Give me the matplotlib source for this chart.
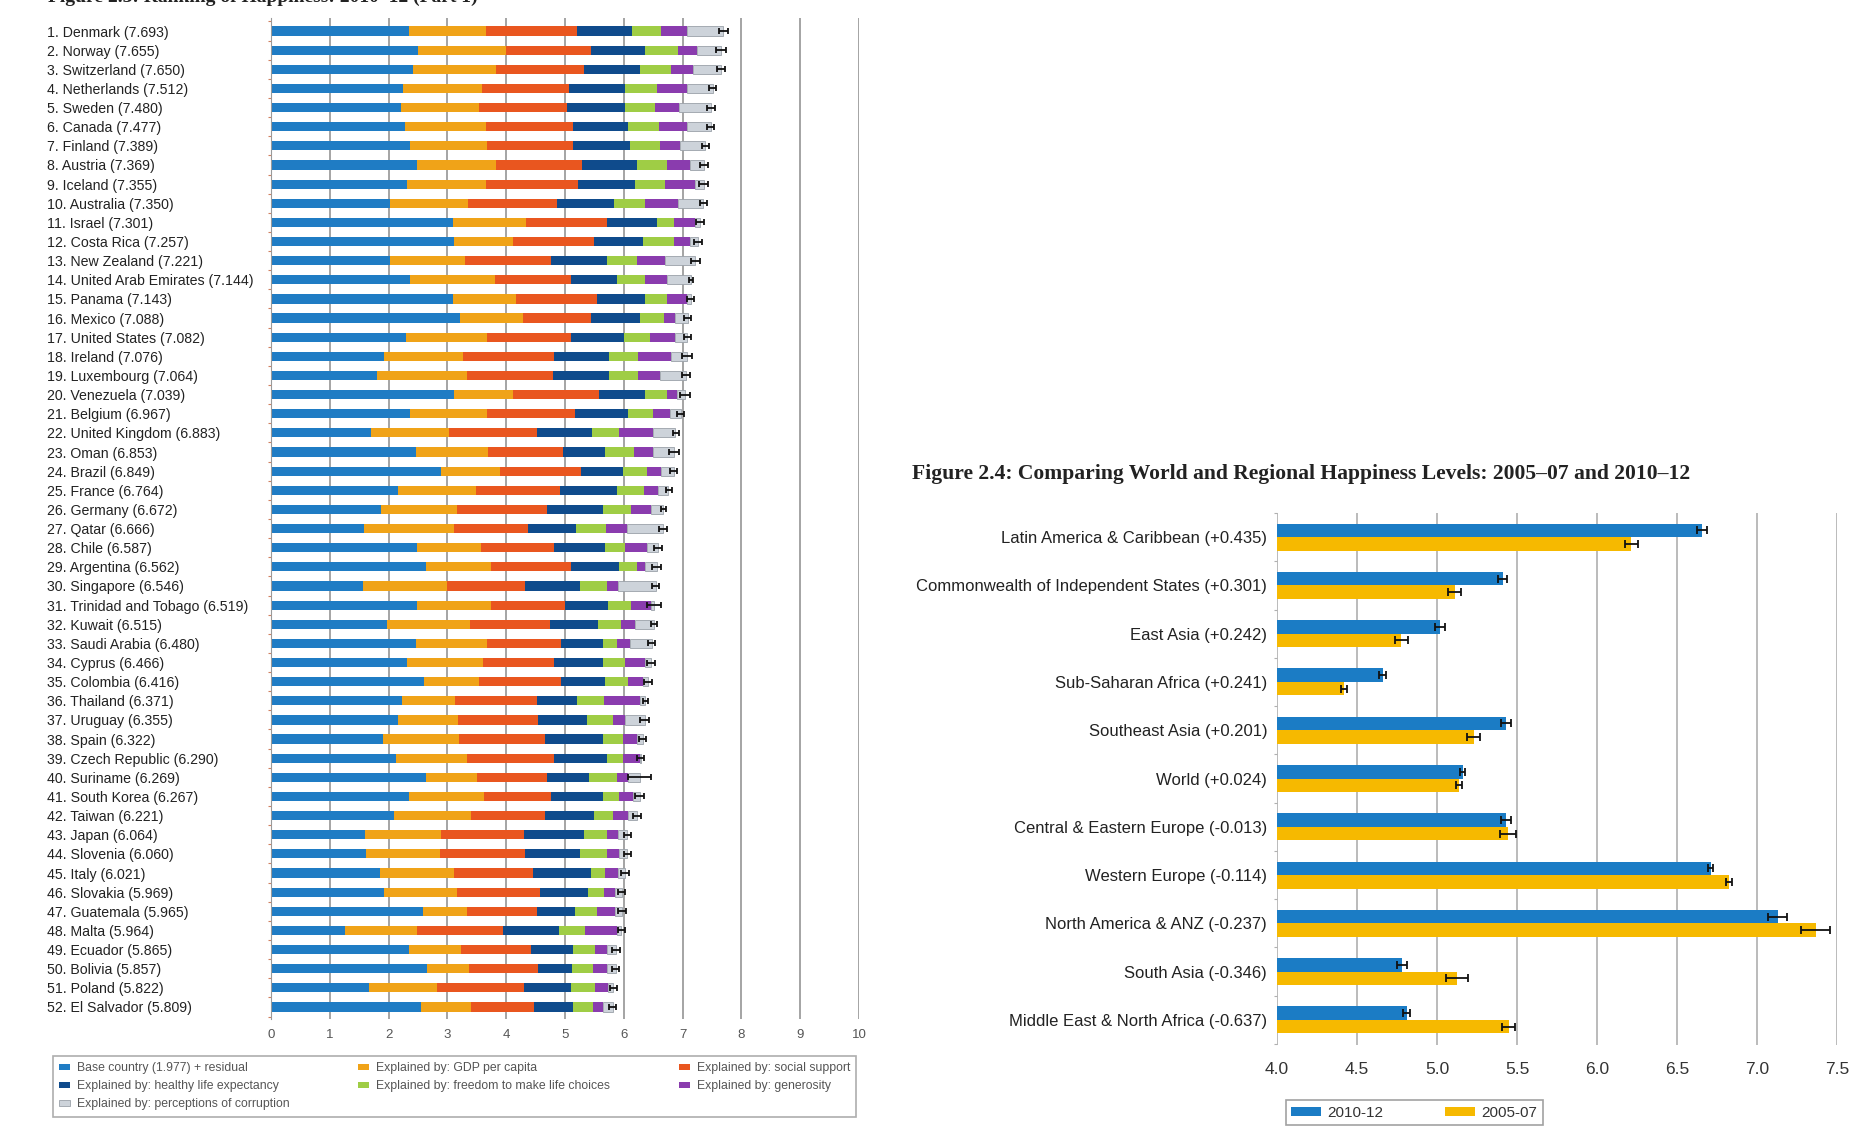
import numpy as np
import matplotlib
matplotlib.use('Agg')
import matplotlib.pyplot as plt

plt.rcParams['font.family'] = ['Liberation Sans', 'DejaVu Sans']

# ---- left chart: ranking of happiness 2010-12 (part 1) ----
countries = ['Denmark', 'Norway', 'Switzerland', 'Netherlands', 'Sweden', 'Canada', 'Finland',
             'Austria', 'Iceland', 'Australia', 'Israel', 'Costa Rica', 'New Zealand',
             'United Arab Emirates', 'Panama', 'Mexico', 'United States', 'Ireland', 'Luxembourg',
             'Venezuela', 'Belgium', 'United Kingdom', 'Oman', 'Brazil', 'France', 'Germany',
             'Qatar', 'Chile', 'Argentina', 'Singapore', 'Trinidad and Tobago', 'Kuwait',
             'Saudi Arabia', 'Cyprus', 'Colombia', 'Thailand', 'Uruguay', 'Spain', 'Czech Republic',
             'Suriname', 'South Korea', 'Taiwan', 'Japan', 'Slovenia', 'Italy', 'Slovakia',
             'Guatemala', 'Malta', 'Ecuador', 'Bolivia', 'Poland', 'El Salvador']
scores = [7.693, 7.655, 7.650, 7.512, 7.480, 7.477, 7.389, 7.369, 7.355, 7.350, 7.301, 7.257,
          7.221, 7.144, 7.143, 7.088, 7.082, 7.076, 7.064, 7.039, 6.967, 6.883, 6.853, 6.849,
          6.764, 6.672, 6.666, 6.587, 6.562, 6.546, 6.519, 6.515, 6.480, 6.466, 6.416, 6.371,
          6.355, 6.322, 6.290, 6.269, 6.267, 6.221, 6.064, 6.060, 6.021, 5.969, 5.965, 5.964,
          5.865, 5.857, 5.822, 5.809]
base = [2.35, 2.50, 2.42, 2.24, 2.21, 2.28, 2.37, 2.48, 2.32, 2.02, 3.09, 3.12, 2.02, 2.37, 3.10,
        3.21, 2.29, 1.92, 1.80, 3.12, 2.37, 1.71, 2.46, 2.90, 2.16, 1.87, 1.59, 2.48, 2.63, 1.57,
        2.49, 1.97, 2.46, 2.32, 2.60, 2.23, 2.16, 1.91, 2.12, 2.63, 2.35, 2.10, 1.60, 1.61, 1.85,
        1.93, 2.59, 1.26, 2.35, 2.65, 1.67, 2.56]
gdp = [1.30, 1.49, 1.40, 1.35, 1.33, 1.37, 1.30, 1.34, 1.33, 1.33, 1.24, 1.00, 1.28, 1.44, 1.06,
       1.07, 1.38, 1.35, 1.54, 1.00, 1.30, 1.32, 1.23, 1.00, 1.32, 1.30, 1.53, 1.10, 1.11, 1.42,
       1.25, 1.41, 1.21, 1.29, 0.94, 0.90, 1.02, 1.29, 1.22, 0.88, 1.28, 1.31, 1.29, 1.26, 1.27,
       1.24, 0.74, 1.23, 0.89, 0.72, 1.15, 0.84]
social = [1.55, 1.45, 1.51, 1.48, 1.49, 1.49, 1.47, 1.47, 1.57, 1.51, 1.38, 1.38, 1.46, 1.29, 1.38,
          1.16, 1.43, 1.55, 1.46, 1.46, 1.50, 1.49, 1.28, 1.37, 1.43, 1.52, 1.25, 1.24, 1.36, 1.33,
          1.26, 1.36, 1.26, 1.21, 1.39, 1.39, 1.36, 1.46, 1.48, 1.19, 1.13, 1.25, 1.42, 1.45, 1.34,
          1.40, 1.19, 1.45, 1.19, 1.17, 1.49, 1.08]
health = [0.94, 0.93, 0.94, 0.96, 1.00, 0.93, 0.96, 0.94, 0.98, 0.98, 0.85, 0.82, 0.95, 0.79, 0.83,
          0.83, 0.91, 0.93, 0.95, 0.78, 0.90, 0.94, 0.71, 0.72, 0.98, 0.96, 0.81, 0.86, 0.82, 0.93,
          0.73, 0.82, 0.72, 0.83, 0.75, 0.69, 0.84, 0.99, 0.89, 0.71, 0.88, 0.84, 1.01, 0.93, 0.98,
          0.82, 0.65, 0.96, 0.71, 0.58, 0.79, 0.66]
freedom = [0.50, 0.55, 0.53, 0.53, 0.51, 0.53, 0.52, 0.50, 0.50, 0.53, 0.30, 0.54, 0.51, 0.48, 0.37,
           0.41, 0.43, 0.49, 0.50, 0.37, 0.43, 0.46, 0.50, 0.40, 0.46, 0.47, 0.51, 0.34, 0.31, 0.46,
           0.40, 0.40, 0.24, 0.37, 0.39, 0.46, 0.44, 0.34, 0.28, 0.47, 0.28, 0.32, 0.39, 0.47, 0.24,
           0.28, 0.37, 0.44, 0.37, 0.36, 0.41, 0.34]
generosity = [0.44, 0.32, 0.37, 0.52, 0.40, 0.47, 0.33, 0.40, 0.51, 0.55, 0.35, 0.26, 0.48, 0.36,
              0.33, 0.19, 0.43, 0.56, 0.36, 0.17, 0.28, 0.58, 0.32, 0.25, 0.23, 0.35, 0.36, 0.38,
              0.13, 0.19, 0.34, 0.23, 0.21, 0.34, 0.26, 0.60, 0.20, 0.23, 0.28, 0.19, 0.24, 0.25,
              0.19, 0.20, 0.22, 0.18, 0.31, 0.54, 0.20, 0.23, 0.22, 0.17]
corruption = [0.61, 0.42, 0.48, 0.43, 0.54, 0.41, 0.44, 0.24, 0.15, 0.43, 0.09, 0.14, 0.52, 0.41,
              0.07, 0.22, 0.21, 0.28, 0.45, 0.14, 0.19, 0.38, 0.35, 0.21, 0.18, 0.20, 0.61, 0.19,
              0.20, 0.65, 0.05, 0.33, 0.38, 0.11, 0.09, 0.10, 0.34, 0.10, 0.02, 0.20, 0.11, 0.15,
              0.16, 0.14, 0.12, 0.12, 0.12, 0.08, 0.15, 0.15, 0.09, 0.16]
ci_half = [0.08, 0.08, 0.07, 0.06, 0.07, 0.06, 0.06, 0.07, 0.08, 0.06, 0.07, 0.07, 0.07, 0.04,
           0.06, 0.06, 0.06, 0.08, 0.07, 0.09, 0.06, 0.05, 0.09, 0.06, 0.05, 0.04, 0.07, 0.07,
           0.08, 0.06, 0.12, 0.05, 0.06, 0.07, 0.07, 0.05, 0.08, 0.06, 0.06, 0.20, 0.07, 0.07,
           0.06, 0.06, 0.07, 0.06, 0.07, 0.06, 0.07, 0.06, 0.06, 0.06]

segment_names = ['Base country (1.977) + residual', 'Explained by: GDP per capita',
                 'Explained by: social support', 'Explained by: healthy life expectancy',
                 'Explained by: freedom to make life choices', 'Explained by: generosity',
                 'Explained by: perceptions of corruption']
segment_colors = ['#1f7cc4', '#f0a318', '#e9561f', '#0f4b8c', '#9fcd45', '#8a3cae', '#cdd3da']

# ---- right chart: world and regional happiness ----
regions = ['Latin America & Caribbean (+0.435)', 'Commonwealth of Independent States (+0.301)',
           'East Asia (+0.242)', 'Sub-Saharan Africa (+0.241)', 'Southeast Asia (+0.201)',
           'World (+0.024)', 'Central & Eastern Europe (-0.013)', 'Western Europe (-0.114)',
           'North America & ANZ (-0.237)', 'South Asia (-0.346)', 'Middle East & North Africa (-0.637)']
happy_2010_12 = [6.655, 5.410, 5.020, 4.660, 5.430, 5.160, 5.430, 6.710, 7.130, 4.780, 4.810]
happy_2005_07 = [6.215, 5.110, 4.778, 4.420, 5.230, 5.136, 5.443, 6.824, 7.367, 5.126, 5.447]
err_2010_12 = [0.03, 0.03, 0.03, 0.02, 0.03, 0.015, 0.03, 0.015, 0.06, 0.03, 0.02]
err_2005_07 = [0.04, 0.04, 0.04, 0.02, 0.04, 0.02, 0.05, 0.02, 0.09, 0.07, 0.04]

fig = plt.figure(figsize=(18.62, 11.33), dpi=100)

# left axes
ax = fig.add_axes([0.1455, 0.1006, 0.3158, 0.8835])
y = np.arange(len(countries))
segments = [base, gdp, social, health, freedom, generosity, corruption]
left = np.zeros(len(countries))
for vals, col, name in zip(segments, segment_colors, segment_names):
    vals = np.array(vals)
    edge = '#9aa1a9' if name.endswith('corruption') else 'none'
    ax.barh(y, vals, left=left, height=0.48, color=col, edgecolor=edge, linewidth=0.6,
            zorder=2, label=name)
    left += vals
ax.errorbar(scores, y, xerr=ci_half, fmt='none', ecolor='#111111', elinewidth=1.3,
            capsize=2.5, capthick=1.3, zorder=3)
ax.set_xlim(0, 10)
ax.set_ylim(len(countries) - 0.37, -0.68)
ax.set_xticks(range(11))
ax.tick_params(axis='x', length=0, labelsize=9.5, labelcolor='#555555', pad=7)
ax.set_yticks(y)
ax.set_yticklabels([f'{i + 1}. {c} ({s:.3f})' for i, (c, s) in enumerate(zip(countries, scores))],
                   ha='left', fontsize=10.2, color='#222222')
ax.tick_params(axis='y', length=0, pad=161)
ax.set_yticks(np.arange(len(countries) + 1) - 0.5, minor=True)
ax.tick_params(axis='y', which='minor', length=2.5, color='#d08060', width=0.8)
ax.grid(axis='x', color='#8c8c8c', linewidth=1.1, zorder=0)
for side in ['top', 'right', 'bottom']:
    ax.spines[side].set_visible(False)
ax.spines['left'].set_color('#9a9a9a')
ax.spines['left'].set_linewidth(0.8)

handles, labels = ax.get_legend_handles_labels()
order = [0, 3, 6, 1, 4, 2, 5]
leg = fig.legend([handles[i] for i in order], [labels[i] for i in order],
                 loc='upper left', bbox_to_anchor=(0.0252, 0.015, 0.438, 0.0583), mode='expand',
                 ncol=3, fontsize=8.8, frameon=True, fancybox=False, handlelength=0.9,
                 handleheight=0.45, handletextpad=0.6, borderpad=0.5, labelspacing=0.5,
                 columnspacing=1.0)
leg.get_frame().set_edgecolor('#9a9a9a')
leg.get_frame().set_linewidth(1.2)
for t in leg.get_texts():
    t.set_color('#555555')

# title of the left figure, cut off at the top edge as in the page scan
fig.text(0.026, 1.002, 'Figure 2.3: Ranking of Happiness: 2010–12 (Part 1)', va='center',
         ha='left', fontsize=14, fontweight='bold', family=['Liberation Serif', 'DejaVu Serif'],
         color='#222222')

# right axes
ax2 = fig.add_axes([0.6858, 0.0777, 0.3008, 0.4695])
gy = np.arange(len(regions))
bh = 0.28
ax2.barh(gy - bh / 2, np.array(happy_2010_12) - 4.0, left=4.0, height=bh, color='#1b7cc5',
         zorder=2, label='2010-12')
ax2.barh(gy + bh / 2, np.array(happy_2005_07) - 4.0, left=4.0, height=bh, color='#f6b900',
         zorder=2, label='2005-07')
ax2.errorbar(happy_2010_12, gy - bh / 2, xerr=err_2010_12, fmt='none', ecolor='#111111',
             elinewidth=1.3, capsize=3, capthick=1.3, zorder=3)
ax2.errorbar(happy_2005_07, gy + bh / 2, xerr=err_2005_07, fmt='none', ecolor='#111111',
             elinewidth=1.3, capsize=3, capthick=1.3, zorder=3)
ax2.set_xlim(4.0, 7.5)
ax2.set_ylim(len(regions) - 0.48, -0.47)
ax2.set_xticks(np.arange(4.0, 7.51, 0.5))
ax2.set_xticklabels([f'{v:.1f}' for v in np.arange(4.0, 7.51, 0.5)])
ax2.tick_params(axis='x', length=0, labelsize=12.5, labelcolor='#333333', pad=12)
ax2.set_yticks(gy)
ax2.set_yticklabels(regions, fontsize=12, color='#222222')
ax2.tick_params(axis='y', length=0, pad=7)
ax2.set_yticks(np.arange(len(regions) + 1) - 0.5, minor=True)
ax2.tick_params(axis='y', which='minor', length=2.5, color='#b0b0b0', width=0.8)
ax2.grid(axis='x', color='#a8a8a8', linewidth=1.1, zorder=0)
for side in ['top', 'right', 'bottom', 'left']:
    ax2.spines[side].set_visible(False)

leg2 = fig.legend(loc='upper left', bbox_to_anchor=(0.6863, 0.0355), ncol=2, fontsize=11,
                  handles=ax2.get_legend_handles_labels()[0], frameon=True, fancybox=False,
                  handlelength=2.0, handleheight=0.55, handletextpad=0.4, borderpad=0.35,
                  columnspacing=4.0)
leg2.get_frame().set_edgecolor('#8a8a8a')
leg2.get_frame().set_linewidth(1.2)
for t in leg2.get_texts():
    t.set_color('#333333')

fig.text(0.4898, 0.5817, 'Figure 2.4: Comparing World and Regional Happiness Levels: 2005–07 and 2010–12',
         ha='left', va='center', fontsize=15.6, fontweight='bold',
         family=['Liberation Serif', 'DejaVu Serif'], color='#222222')

fig.savefig('out.png', dpi=100)
